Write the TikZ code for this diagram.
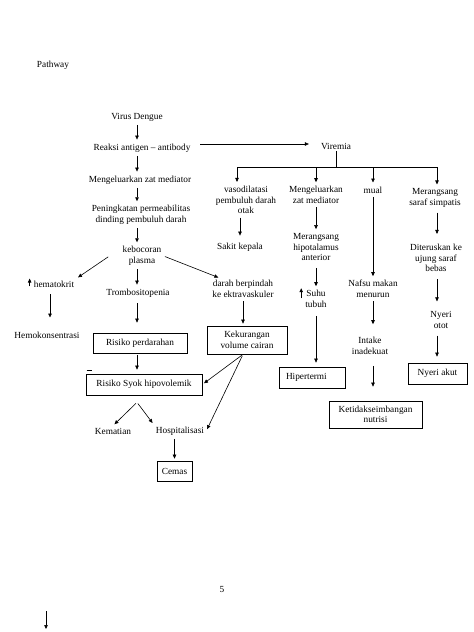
\documentclass[tikz,border=0pt]{standalone}
\usepackage{fontspec}
\setmainfont{Liberation Serif}
\usetikzlibrary{calc}
\usetikzlibrary{arrows.meta}
\tikzset{
  teks/.style={align=center, font=\fontsize{9.3}{10.6}\selectfont, inner sep=2pt},
  kotak/.style={teks, draw, line width=0.7pt},
  panah/.style={-{Triangle[length=4pt,width=3.5pt]}, line width=0.6pt, shorten <=1.5pt, shorten >=2pt},
  garis/.style={line width=0.6pt}
}

\begin{document}
\begin{tikzpicture}[x=1pt,y=-1pt]
    \useasboundingbox (0,0) rectangle (474,632);
    \node[teks] (judul) at (53,65) {Pathway};
    %kolom kiri
    \node[teks] (virus) at (137,117) {Virus Dengue};
    \node[teks] (reaksi) at (142,148) {Reaksi antigen -- antibody};
    \node[teks] (zat) at (140,180) {Mengeluarkan zat mediator};
    \node[teks] (permea) at (141,215) {Peningkatan permeabilitas\\dinding pembuluh darah};
    \node[teks] (kebo) at (142,256) {kebocoran\\plasma};
    \node[teks] (hema) at (54,284) {hematokrit};
    \node[teks] (trombo) at (138,293) {Trombositopenia};
    \node[teks] (darah) at (243,289) {darah berpindah\\ke ektravaskuler};
    \node[teks] (hemok) at (47,335) {Hemokonsentrasi};
    \node[kotak, minimum width=94, minimum height=20] (perdarahan) at (140,343) {Risiko perdarahan};
    \node[kotak, minimum width=80, minimum height=28] (kurang) at (247,340) {Kekurangan\\volume cairan};
    \node[kotak, minimum width=116, minimum height=21] (syok) at (144,384.5) {Risiko Syok hipovolemik};
    \node[teks] (mati) at (113,431) {Kematian};
    \node[teks] (hosp) at (180,431) {Hospitalisasi};
    \node[kotak, minimum width=35, minimum height=20] (cemas) at (174.5,471) {Cemas};
    %kolom kanan
    \node[teks] (viremia) at (336,146) {Viremia};
    \node[teks] (vaso) at (246,200) {vasodilatasi\\pembuluh darah\\otak};
    \node[teks] (sakit) at (240,247) {Sakit kepala};
    \node[teks] (zatb) at (316,195) {Mengeluarkan\\zat mediator};
    \node[teks] (hipo) at (316,247) {Merangsang\\hipotalamus\\anterior};
    \node[teks] (suhu) at (316,299) {Suhu\\tubuh};
    \node[kotak, align=left, text width=52, inner xsep=7, minimum height=21] (hiper) at (312,377.5) {Hipertermi};
    \node[teks] (mual) at (373,190) {mual};
    \node[teks] (nafsu) at (373,289) {Nafsu makan\\menurun};
    \node[teks] (intake) at (370,346) {Intake\\inadekuat};
    \node[kotak, minimum width=93, minimum height=27] (nutrisi) at (375.5,414.5) {Ketidakseimbangan\\nutrisi};
    \node[teks] (simpatis) at (435,198) {Merangsang\\saraf simpatis};
    \node[teks] (diter) at (436,258) {Diteruskan ke\\ujung saraf\\bebas};
    \node[teks] (otot) at (441,320) {Nyeri\\otot};
    \node[kotak, minimum width=59, minimum height=21] (akut) at (437.5,373.5) {Nyeri akut};
    \node[teks] (hal) at (222,589) {5};
    \coordinate (cab1) at (237,167);
    \coordinate (cab2) at (316,167);
    \coordinate (cab3) at (373,167);
    \coordinate (cab4) at (437,167);
    \coordinate (sisa1) at (46,611);
    \coordinate (sisa2) at (46,631);
    %panah kiri
    \draw[panah] (virus) -- (virus |- reaksi.north);
    \foreach \a/\b/\s/\t in {reaksi/zat/1.5/2, zat/permea/1.5/2, permea/kebo/1.5/2, kebo/trombo/1.5/2, trombo/perdarahan/4/10, perdarahan/syok/1.5/4}
        \draw[panah, shorten <=\s pt, shorten >=\t pt] (\a.south -| virus) -- (\b.north -| virus);
    \draw[panah] ([xshift=-11pt]kebo.west) -- (hema.north east);
    \draw[panah] (kebo.east) -- ([xshift=10pt]darah.north west);
    \draw[panah, shorten <=3pt, shorten >=0pt] ([xshift=-2pt]hema.south west) -- ([xshift=-2pt]hema.north west);
    \draw[panah, shorten <=5pt, shorten >=12pt] (hema.south -| 50,0) -- (hemok.north -| 50,0);
    \draw[panah] (darah.south) -- (darah.south |- kurang.north);
    \draw[panah] ([xshift=-4pt]kurang.south) -- (syok.east);
    \draw[panah] ([xshift=-4pt]kurang.south) -- (hosp.east);
    \coordinate (puncak) at ($(syok.south -| virus)+(0,7)$);
    \draw[panah] (puncak) -- (mati.north);
    \draw[panah] (puncak) -- (hosp.north west);
    \draw[panah] (hosp.south -| cemas) -- (cemas.north);
    \draw[garis] ([shift={(1,-3)}]syok.north west) -- ++(5,0);
    \draw[panah, shorten <=0pt] (sisa1) -- (sisa2);
    %panah kanan
    \draw[panah, shorten >=16pt] ([shift={(6,-4)}]reaksi.east) -- ([shift={(6,-4)}]reaksi.east -| viremia.west);
    \draw[garis] (viremia.south) -- (viremia.south |- cab1);
    \draw[garis] (cab1) -- (cab4);
    \foreach \c/\n in {cab1/vaso, cab2/zatb, cab3/mual, cab4/simpatis}
        \draw[panah, shorten <=0pt] (\c) -- (\c |- \n.north);
    \draw[panah, shorten >=5pt] (vaso.south -| sakit) -- (sakit.north);
    \draw[panah] (zatb) -- (hipo);
    \draw[panah, shorten <=5pt] (hipo) -- (suhu);
    \draw[panah, shorten <=1pt, shorten >=0pt] ([xshift=-2pt]suhu.west) -- ([xshift=-2pt]suhu.north west);
    \draw[panah, shorten <=6pt, shorten >=4pt] (suhu.south) -- (suhu.south |- hiper.north);
    \draw[panah] (mual) -- (nafsu);
    \draw[panah, shorten >=11pt] (nafsu.south) -- (nafsu.south |- intake.north);
    \draw[panah, shorten <=9pt, shorten >=14pt] (intake.south -| nafsu) -- (nafsu |- nutrisi.north);
    \foreach \a/\b/\s/\t in {simpatis/diter/3/8, diter/otot/5/8, otot/akut/5/6}
        \draw[panah, shorten <=\s pt, shorten >=\t pt] (\a.south -| cab4) -- (\b.north -| cab4);
\end{tikzpicture}
\end{document}
